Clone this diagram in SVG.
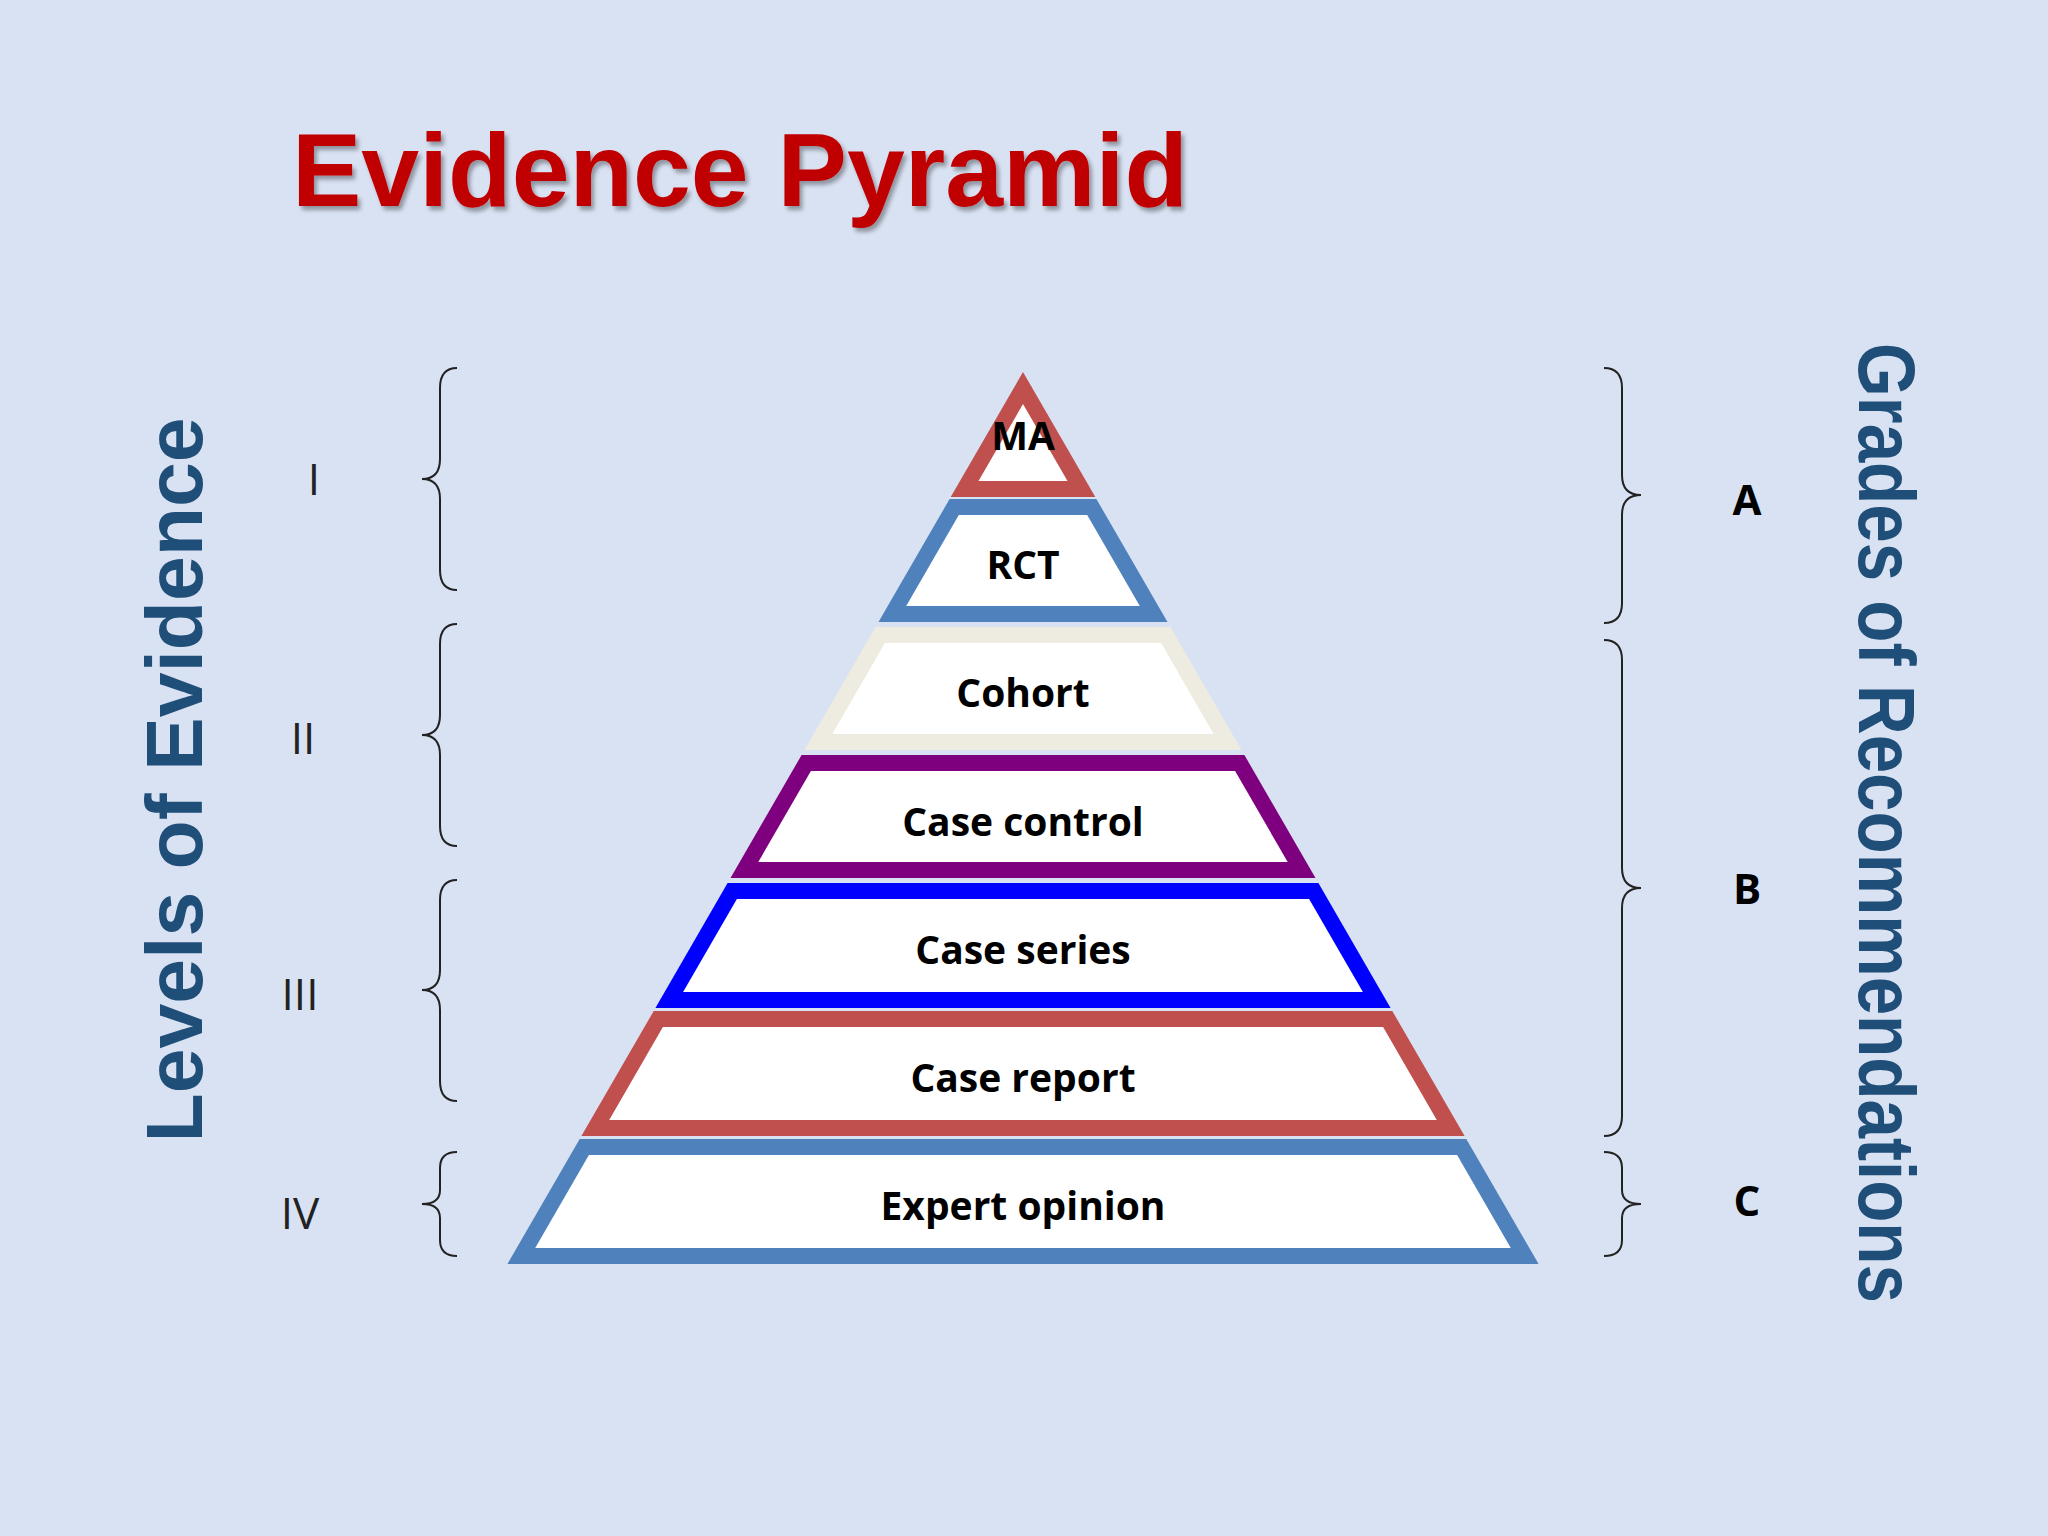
<svg xmlns="http://www.w3.org/2000/svg" width="2048" height="1536" viewBox="0 0 2048 1536">
<defs>
<style>
.lbl{font-family:"Open Sans","Liberation Sans",sans-serif;font-weight:bold;font-size:39px;fill:#000;text-anchor:middle}
.rom{font-family:"Open Sans","Liberation Sans",sans-serif;font-size:44px;fill:#222;text-anchor:middle}
.gr{font-family:"Open Sans","Liberation Sans",sans-serif;font-weight:bold;font-size:42px;fill:#000;text-anchor:middle}
.side{font-family:"Liberation Sans",Arial,sans-serif;font-weight:bold;font-size:80px;fill:#1F4E79;text-anchor:middle}
.brace{fill:none;stroke:#222;stroke-width:2}
.in{fill:#fff}
</style>
<filter id="sh" x="-5%" y="-5%" width="110%" height="120%"><feDropShadow dx="3" dy="4" stdDeviation="2" flood-color="#000" flood-opacity="0.35"/></filter>
</defs>
<rect width="2048" height="1536" fill="#D9E2F3"/>
<text x="740" y="206" font-family="Liberation Sans,Arial,sans-serif" font-weight="bold" font-size="104" fill="#C00000" text-anchor="middle" filter="url(#sh)">Evidence Pyramid</text>
<text class="side" transform="translate(202,780) rotate(-90)" textLength="725" lengthAdjust="spacingAndGlyphs">Levels of Evidence</text>
<text class="side" transform="translate(1859,823) rotate(90)" textLength="960" lengthAdjust="spacingAndGlyphs">Grades of Recommendations</text>
<g id="ma"><polygon points="1023,372 1095.3,497 950.7,497" fill="#C0504D"/><polygon class="in" points="1023,404 1067.5,481 978.5,481"/><text class="lbl" x="1023" y="450">MA</text></g>
<g id="rct"><polygon points="949.6,499 1096.4,499 1167.5,622 878.5,622" fill="#4F81BD"/><polygon class="in" points="958.8,515 1087.2,515 1139.8,606 906.2,606"/><text class="lbl" x="1023" y="579">RCT</text></g>
<g id="cohort"><polygon points="875.6,627 1170.4,627 1241.5,750 804.5,750" fill="#EEECE1"/><polygon class="in" points="884.9,643 1161.1,643 1213.7,734 832.3,734"/><text class="lbl" x="1023" y="707">Cohort</text></g>
<g id="casecontrol"><polygon points="801.6,755 1244.4,755 1315.5,878 730.5,878" fill="#7F007F"/><polygon class="in" points="810.9,771 1235.1,771 1287.7,862 758.3,862"/><text class="lbl" x="1023" y="836">Case control</text></g>
<g id="caseseries"><polygon points="727.6,883 1318.4,883 1390.6,1008 655.4,1008" fill="#0000FF"/><polygon class="in" points="736.9,899 1309.1,899 1362.9,992 683.1,992"/><text class="lbl" x="1023" y="964">Case series</text></g>
<g id="casereport"><polygon points="653.7,1011 1392.3,1011 1464.6,1136 581.4,1136" fill="#C0504D"/><polygon class="in" points="662.9,1027 1383.1,1027 1436.8,1120 609.2,1120"/><text class="lbl" x="1023" y="1092">Case report</text></g>
<g id="expert"><polygon points="579.7,1139 1466.3,1139 1538.6,1264 507.4,1264" fill="#4F81BD"/><polygon class="in" points="588.9,1155 1457.1,1155 1510.8,1248 535.2,1248"/><text class="lbl" x="1023" y="1220">Expert opinion</text></g>
<g id="connectors">
<path class="brace" d="M457 368 Q440 368 440 388 L440 459 Q440 479 422 479 Q440 479 440 499 L440 570 Q440 590 457 590"/>
<path class="brace" d="M457 624 Q440 624 440 644 L440 715 Q440 735 422 735 Q440 735 440 755 L440 826 Q440 846 457 846"/>
<path class="brace" d="M457 880 Q440 880 440 900 L440 970 Q440 990 422 990 Q440 990 440 1010 L440 1081 Q440 1101 457 1101"/>
<path class="brace" d="M457 1152 Q440 1152 440 1168 L440 1190 Q440 1204 422 1204 Q440 1204 440 1218 L440 1240 Q440 1256 457 1256"/>
<path class="brace" d="M1604 368 Q1622 368 1622 388 L1622 475 Q1622 495 1641 495 Q1622 495 1622 515 L1622 603 Q1622 623 1604 623"/>
<path class="brace" d="M1604 640 Q1622 640 1622 660 L1622 868 Q1622 888 1641 888 Q1622 888 1622 908 L1622 1116 Q1622 1136 1604 1136"/>
<path class="brace" d="M1604 1152 Q1622 1152 1622 1168 L1622 1190 Q1622 1204 1641 1204 Q1622 1204 1622 1218 L1622 1240 Q1622 1256 1604 1256"/>
</g>
<text class="rom" x="314" y="495">I</text>
<text class="rom" x="303" y="754">II</text>
<text class="rom" x="300" y="1010">III</text>
<text class="rom" x="300" y="1229">IV</text>
<text class="gr" x="1747" y="515">A</text>
<text class="gr" x="1747" y="904">B</text>
<text class="gr" x="1747" y="1216">C</text>
</svg>
